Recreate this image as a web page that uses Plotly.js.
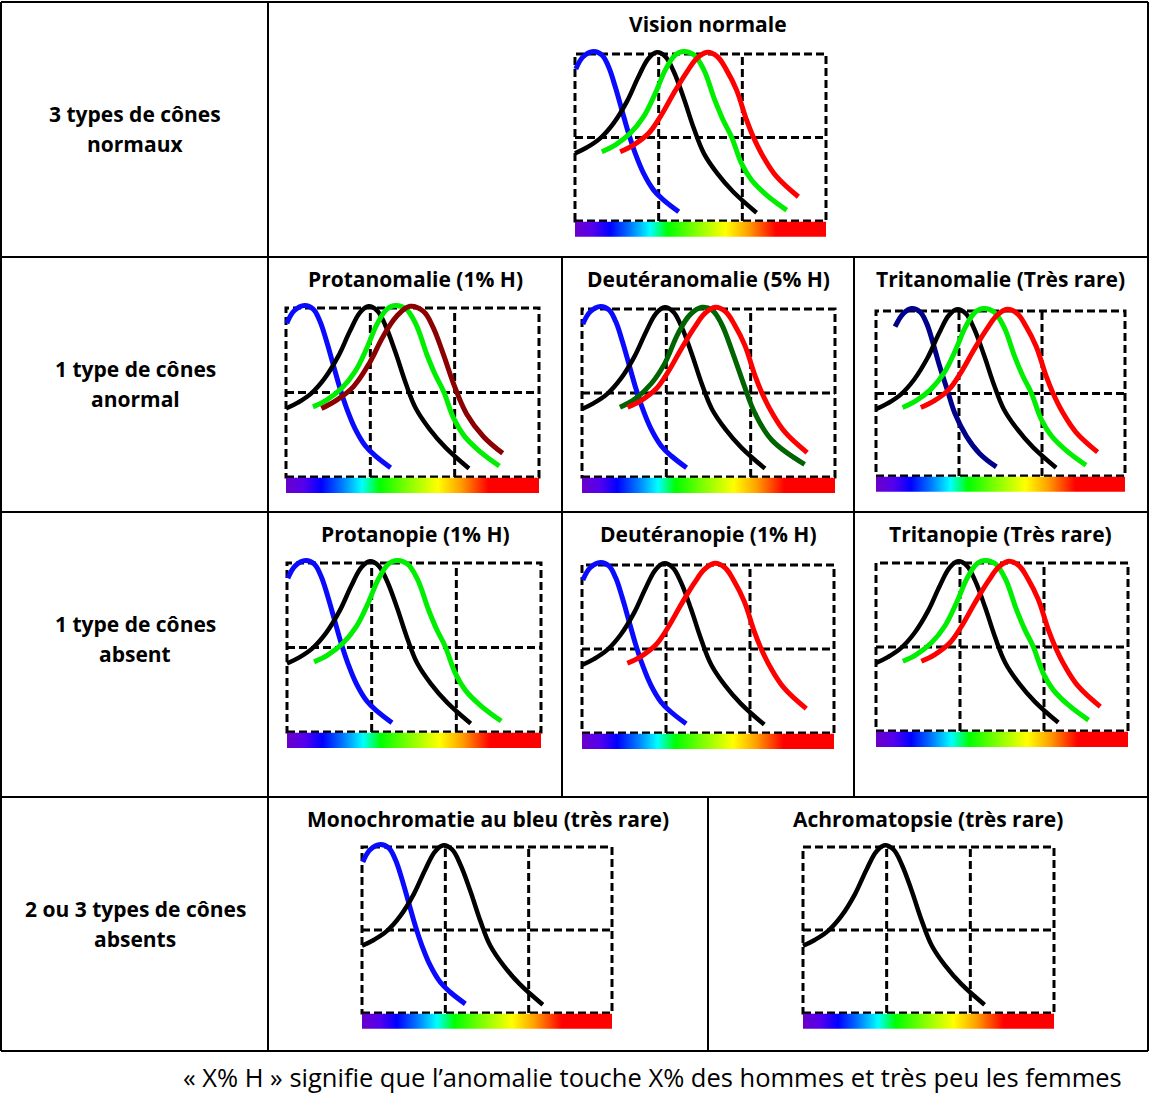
<!DOCTYPE html>
<html>
<head>
<meta charset="utf-8">
<script src="https://cdn.plot.ly/plotly-3.0.1.min.js"></script>
<style>
  html, body { margin: 0; padding: 0; background: #ffffff; }
  #chart { width: 1151px; height: 1112px; }
</style>
</head>
<body>
<div id="chart"></div>
<script>
// ---- Sensitivity curves (x: spectrum position 0..3, y: relative response 0..2) ----
const S_X = [0.01, 0.10, 0.22, 0.32, 0.40, 0.48, 0.56, 0.64, 0.72, 0.82, 0.94, 1.06, 1.24];
const S_Y = [1.82, 1.97, 2.03, 1.99, 1.85, 1.61, 1.33, 1.05, 0.81, 0.57, 0.37, 0.25, 0.11];

const ROD_X = [0.00, 0.14, 0.30, 0.46, 0.62, 0.76, 0.88, 0.98, 1.08, 1.18, 1.30, 1.42, 1.54, 1.70, 1.89, 2.17];
const ROD_Y = [0.81, 0.88, 0.99, 1.17, 1.43, 1.73, 1.95, 2.02, 1.97, 1.79, 1.47, 1.11, 0.81, 0.57, 0.35, 0.10];

const M_X = [0.32, 0.48, 0.66, 0.82, 0.96, 1.08, 1.20, 1.30, 1.42, 1.54, 1.67, 1.77, 1.87, 1.99, 2.11, 2.29, 2.53];
const M_Y = [0.83, 0.91, 1.05, 1.25, 1.53, 1.81, 1.99, 2.03, 1.99, 1.81, 1.45, 1.21, 1.01, 0.69, 0.49, 0.31, 0.13];

const L_X = [0.54, 0.70, 0.88, 1.02, 1.18, 1.34, 1.46, 1.58, 1.70, 1.81, 1.93, 2.05, 2.13, 2.25, 2.41, 2.67];
const L_Y = [0.83, 0.91, 1.05, 1.25, 1.53, 1.79, 1.95, 2.02, 1.97, 1.81, 1.57, 1.21, 1.01, 0.77, 0.53, 0.29];

// anomalous cones (shifted sensitivity)
const LA_X = [0.42, 0.60, 0.80, 0.99, 1.15, 1.31, 1.47, 1.63, 1.74, 1.86, 2.00, 2.14, 2.34, 2.57];
const LA_Y = [0.81, 0.91, 1.07, 1.35, 1.66, 1.90, 2.02, 1.96, 1.78, 1.47, 1.07, 0.75, 0.48, 0.28];

const MA_X = [0.45, 0.63, 0.82, 0.98, 1.14, 1.28, 1.42, 1.54, 1.65, 1.79, 1.93, 2.05, 2.25, 2.64];
const MA_Y = [0.83, 0.93, 1.11, 1.35, 1.71, 1.93, 2.02, 1.99, 1.83, 1.47, 1.07, 0.76, 0.44, 0.15];

const SA_X = [0.23, 0.33, 0.43, 0.53, 0.61, 0.69, 0.77, 0.86, 0.95, 1.09, 1.25, 1.45];
const SA_Y = [1.81, 1.97, 2.03, 1.99, 1.85, 1.60, 1.32, 1.04, 0.76, 0.48, 0.27, 0.11];

// ---- Table content ----
const rowLabels = [
  ["3 types de cônes", "normaux"],
  ["1 type de cônes", "anormal"],
  ["1 type de cônes", "absent"],
  ["2 ou 3 types de cônes", "absents"]
];

const panelTitles = [
  "Vision normale",
  "Protanomalie (1% H)", "Deutéranomalie (5% H)", "Tritanomalie (Très rare)",
  "Protanopie (1% H)", "Deutéranopie (1% H)", "Tritanopie (Très rare)",
  "Monochromatie au bleu (très rare)", "Achromatopsie (très rare)"
];

const panelCurves = [
  ["S", "ROD", "M", "L"],
  ["S", "ROD", "M", "LA"],
  ["S", "ROD", "MA", "L"],
  ["SA", "ROD", "M", "L"],
  ["S", "ROD", "M"],
  ["S", "ROD", "L"],
  ["ROD", "M", "L"],
  ["S", "ROD"],
  ["ROD"]
];

const footnote = "« X% H » signifie que l’anomalie touche X% des hommes et très peu les femmes";

// ---- Styling ----
const curveDefs = {
  S:   { x: S_X,   y: S_Y,   color: "#0a0aff", width: 5 },
  SA:  { x: SA_X,  y: SA_Y,  color: "#00008b", width: 5 },
  ROD: { x: ROD_X, y: ROD_Y, color: "#000000", width: 4.5 },
  M:   { x: M_X,   y: M_Y,   color: "#00ee00", width: 5 },
  MA:  { x: MA_X,  y: MA_Y,  color: "#006400", width: 5 },
  L:   { x: L_X,   y: L_Y,   color: "#ff0000", width: 5 },
  LA:  { x: LA_X,  y: LA_Y,  color: "#8b0000", width: 5 }
};

const spectrumScale = [
  [0.00, "#6a00c8"], [0.07, "#5500ee"], [0.14, "#0000ff"], [0.22, "#0077ff"],
  [0.30, "#00ffff"], [0.37, "#00ff00"], [0.48, "#80ff00"], [0.60, "#ffff00"],
  [0.69, "#ffa000"], [0.80, "#ff0000"], [1.00, "#ff0000"]
];

// page geometry (pixels): dashed box of each panel
const W = 1151, H = 1112;
const boxes = [
  { L: 575, R: 826, T: 54,  B: 221 },
  { L: 286, R: 539, T: 308, B: 477 },
  { L: 582, R: 835, T: 309, B: 477 },
  { L: 876, R: 1125, T: 311, B: 476 },
  { L: 287, R: 541, T: 563, B: 732 },
  { L: 582, R: 834, T: 565, B: 733 },
  { L: 876, R: 1128, T: 563, B: 731 },
  { L: 362, R: 612, T: 847, B: 1013 },
  { L: 803, R: 1054, T: 847, B: 1013 }
];
const titlePos = [
  { x: 708, y: 24 },
  { x: 415, y: 279 }, { x: 708, y: 279 }, { x: 1001, y: 279 },
  { x: 415, y: 534 }, { x: 708, y: 534 }, { x: 1001, y: 534 },
  { x: 488, y: 819 }, { x: 928, y: 819 }
];
const rowCenters = [129, 384, 639, 924];

const X_RANGE = [-0.05, 3.05];
const Y_RANGE = [-0.22, 2.12];

const titleFont = { family: "'Open Sans', Lato, sans-serif", size: 21, color: "#000000", weight: 700 };

const data = [];
const shapes = [];
const annotations = [];
const layout = {
  width: W, height: H,
  margin: { l: 0, r: 0, t: 0, b: 0 },
  paper_bgcolor: "#ffffff", plot_bgcolor: "rgba(0,0,0,0)",
  showlegend: false,
  hovermode: false,
  shapes: shapes,
  annotations: annotations
};

const px = v => v / W;
const py = v => 1 - v / H;

boxes.forEach((b, i) => {
  const k = i === 0 ? "" : String(i + 1);
  const ux = (b.R - b.L) / 3, uy = (b.B - b.T) / 2;
  const x0 = b.L + (X_RANGE[0]) * ux, x1 = b.L + X_RANGE[1] * ux;
  const yTop = b.B - Y_RANGE[1] * uy, yBot = b.B - Y_RANGE[0] * uy;
  const hidden = { visible: false, fixedrange: true, showgrid: false, zeroline: false };
  layout["xaxis" + k] = Object.assign({ domain: [px(x0), px(x1)], range: X_RANGE, anchor: "y" + k }, hidden);
  layout["yaxis" + k] = Object.assign({ domain: [py(yBot), py(yTop)], range: Y_RANGE, anchor: "x" + k }, hidden);
  const xr = "x" + k, yr = "y" + k;

  // spectrum strip under the box
  data.push({
    type: "scatter", xaxis: xr, yaxis: yr,
    x: [0, 3, 3, 0, 0], y: [-0.19, -0.19, -0.01, -0.01, -0.19],
    mode: "lines", line: { width: 0 }, fill: "toself",
    fillgradient: { type: "horizontal", colorscale: spectrumScale },
    hoverinfo: "skip"
  });

  // dashed grid: outer box, two vertical and one horizontal divider
  const dash = { color: "#000000", width: 3, dash: "8px,4px" };
  shapes.push({ type: "rect", xref: xr, yref: yr, x0: 0, x1: 3, y0: 0, y1: 2, line: dash, layer: "below" });
  [1, 2].forEach(v => shapes.push({ type: "line", xref: xr, yref: yr, x0: v, x1: v, y0: 0, y1: 2, line: dash, layer: "below" }));
  shapes.push({ type: "line", xref: xr, yref: yr, x0: 0, x1: 3, y0: 1, y1: 1, line: dash, layer: "below" });

  // sensitivity curves
  panelCurves[i].forEach(name => {
    const c = curveDefs[name];
    data.push({
      type: "scatter", xaxis: xr, yaxis: yr,
      x: c.x, y: c.y, mode: "lines",
      line: { color: c.color, width: c.width, shape: "spline", smoothing: 1.1 },
      hoverinfo: "skip"
    });
  });

  annotations.push({
    xref: "paper", yref: "paper", x: px(titlePos[i].x), y: py(titlePos[i].y),
    xanchor: "center", yanchor: "middle", showarrow: false,
    text: "<b>" + panelTitles[i] + "</b>", font: titleFont
  });
});

// row labels, first column
rowLabels.forEach((lines, r) => {
  lines.forEach((t, j) => {
    annotations.push({
      xref: "paper", yref: "paper", x: px(135), y: py(rowCenters[r] - 15 + j * 30),
      xanchor: "center", yanchor: "middle", showarrow: false,
      text: "<b>" + t + "</b>", font: titleFont
    });
  });
});

annotations.push({
  xref: "paper", yref: "paper", x: px(1124), y: py(1077),
  xanchor: "right", yanchor: "middle", showarrow: false,
  text: footnote,
  font: { family: "'Open Sans', Lato, sans-serif", size: 25.5, color: "#000000" }
});

// table rules
const rule = { color: "#000000", width: 2 };
const hl = (y, xa, xb) => shapes.push({ type: "line", xref: "paper", yref: "paper", x0: px(xa), x1: px(xb), y0: py(y), y1: py(y), line: rule });
const vl = (x, ya, yb) => shapes.push({ type: "line", xref: "paper", yref: "paper", x0: px(x), x1: px(x), y0: py(ya), y1: py(yb), line: rule });
[2, 257, 512, 797, 1051].forEach(y => hl(y, 1, 1148));
vl(1, 2, 1051); vl(1148, 2, 1051); vl(268, 2, 1051);
vl(562, 257, 797); vl(854, 257, 797);
vl(708, 797, 1051);

Plotly.newPlot("chart", data, layout, { staticPlot: true, displayModeBar: false });
</script>
</body>
</html>
